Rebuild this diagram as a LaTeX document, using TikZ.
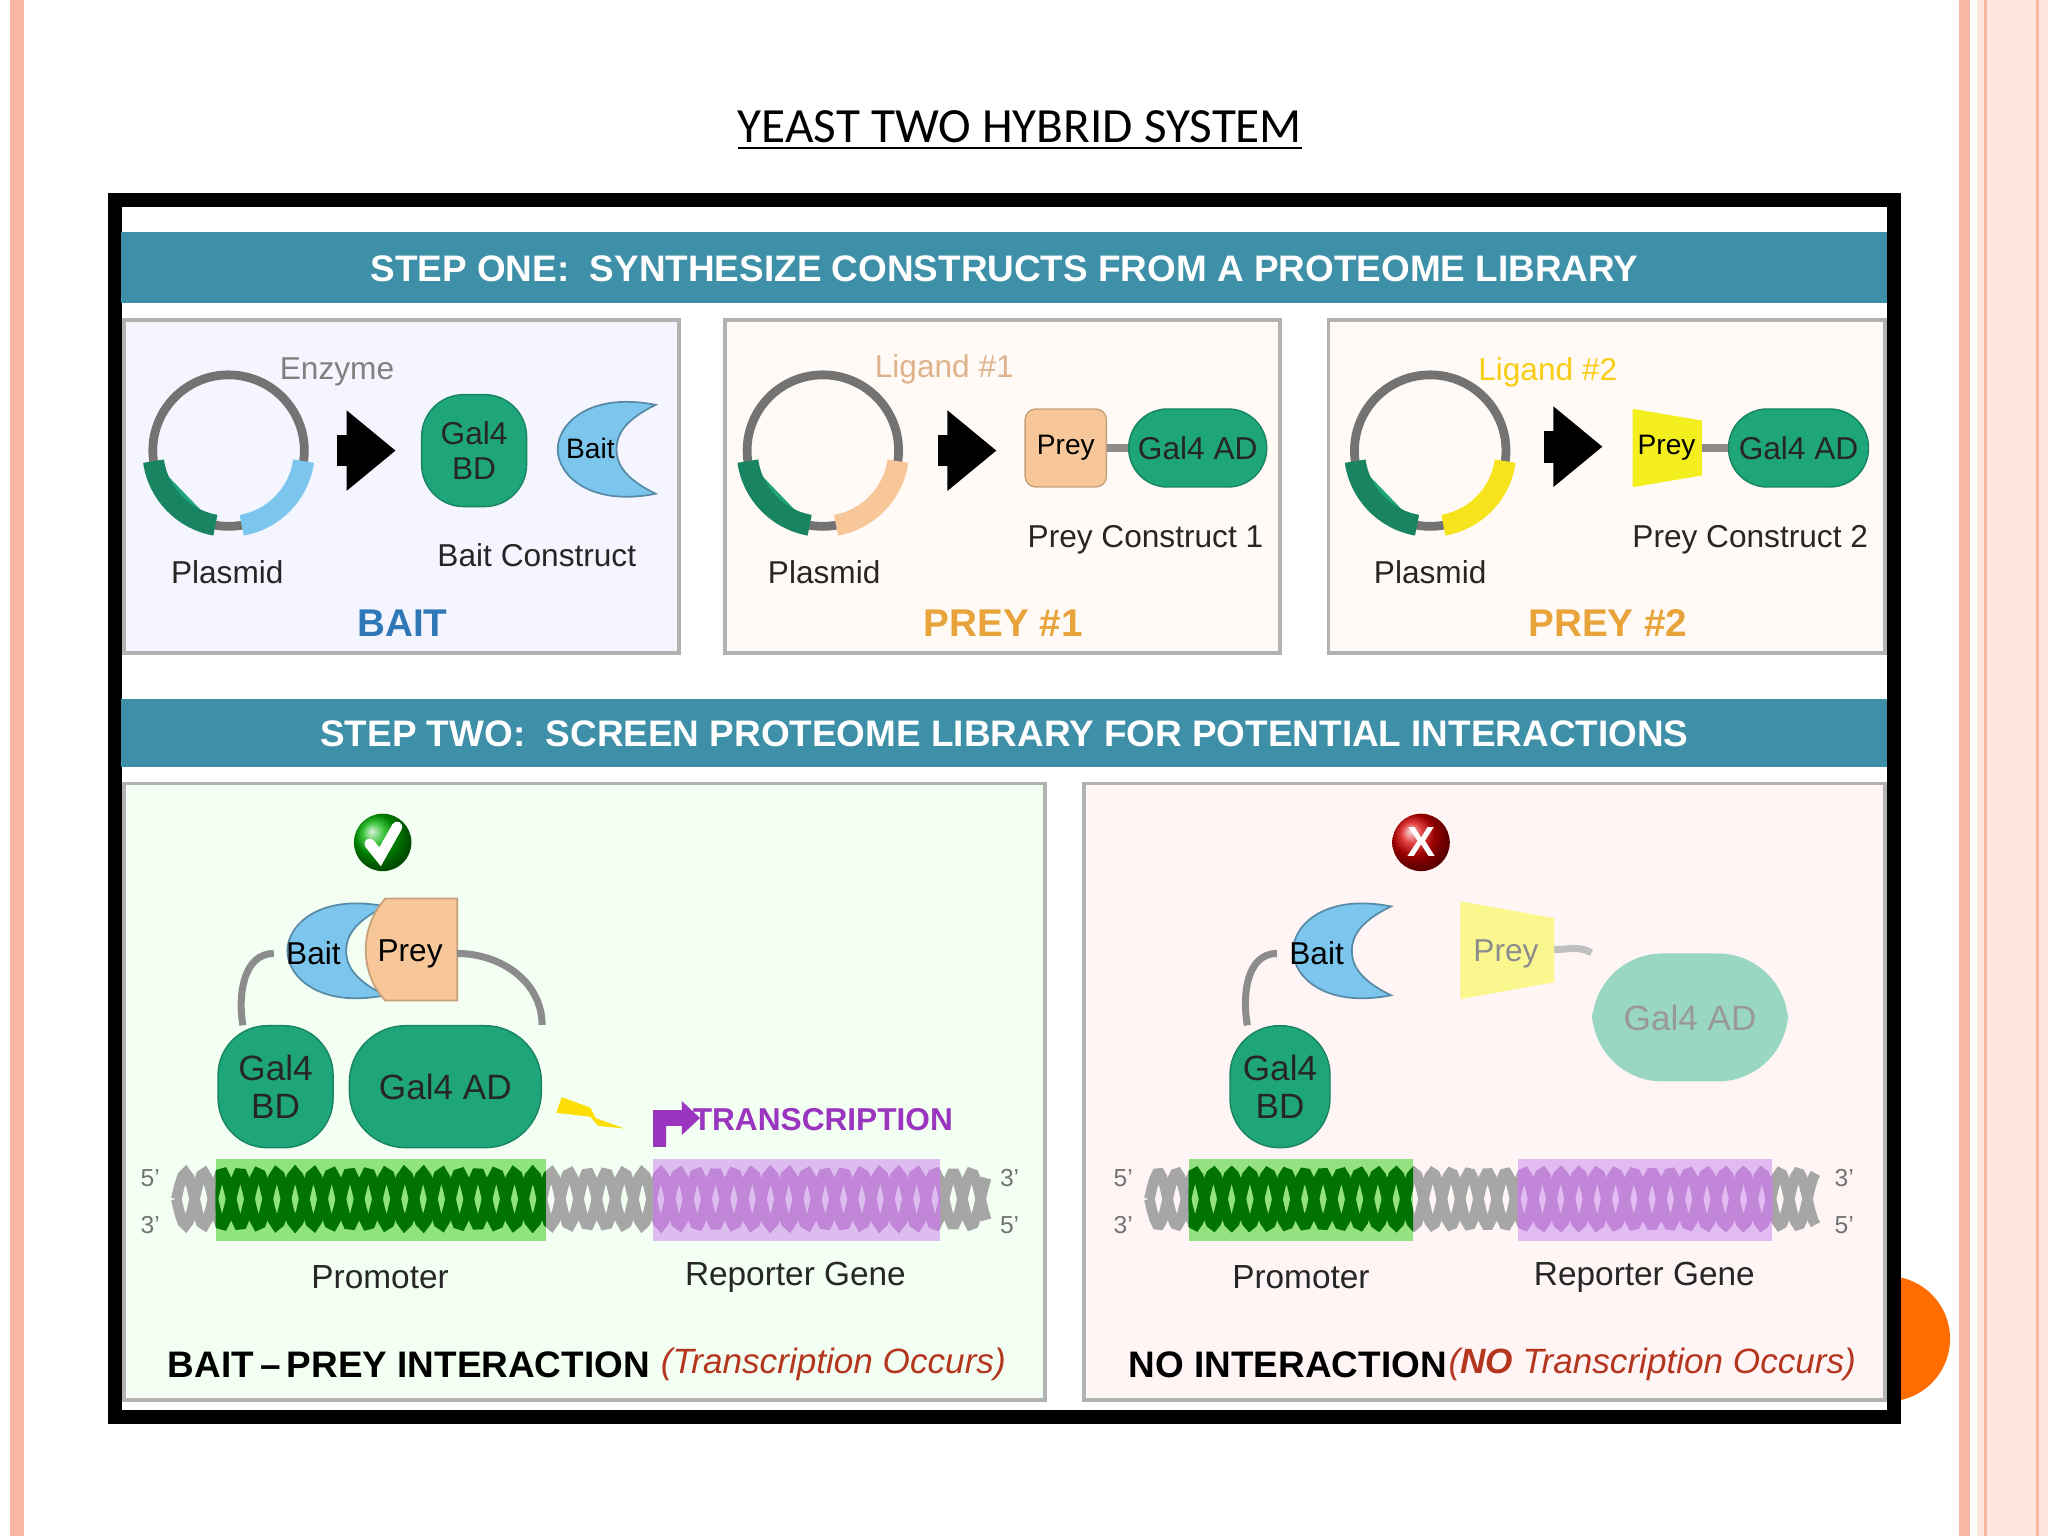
\documentclass[tikz,border=0pt]{standalone}
\usepackage{fontspec}
\setmainfont{Liberation Sans}
\newfontfamily\titlefont{Carlito}
\usetikzlibrary{positioning,arrows.meta}
\definecolor{teal}{HTML}{3E8FA8}
\definecolor{gal}{HTML}{1FA57A}
\definecolor{baitblue}{HTML}{7CC6EE}
\definecolor{peach}{HTML}{F7C79A}
\definecolor{preyyel}{HTML}{F5EE1E}
\definecolor{salmon}{HTML}{F7B7A0}
\definecolor{dnagreen}{HTML}{6FDB5A}
\definecolor{dnapurple}{HTML}{D7A8F0}
\definecolor{purp}{HTML}{9A35C0}
\definecolor{lblue}{HTML}{2F78B8}
\definecolor{orng}{HTML}{E8A33A}
\definecolor{redbrown}{HTML}{B5361F}
\begin{document}
\begin{tikzpicture}[x=0.01306cm,y=-0.01306cm,
    banner/.style={fill=teal,draw=none,text=white,font=\bfseries\fontsize{10.5}{12}\selectfont},
    panel/.style={draw=black!30,line width=1pt},
    gal/.style={fill=gal,draw=gal!80!black,rounded corners=12pt,text=black!85,font=\fontsize{9}{10}\selectfont,align=center,inner sep=0pt},
    lbl/.style={font=\fontsize{9}{10}\selectfont,text=black!85},
    big/.style={font=\fontsize{9.5}{11}\selectfont,text=black!85},
    fatarrow/.style={-{Triangle[length=14pt,width=22pt]},line width=9pt,black},
    link/.style={draw=black!45,line width=2pt},
    bait/.pic={\fill[baitblue,draw=baitblue!70!black,line width=0.5pt]
        (40,-34) .. controls (-10,-44) and (-35,-20) .. (-35,0)
        .. controls (-35,20) and (-10,44) .. (40,34)
        .. controls (15,22) and (10,10) .. (10,0)
        .. controls (10,-10) and (15,-22) .. (40,-34) -- cycle;},
    plasmid/.pic={\draw[black!55,line width=2.5pt] (0,0) circle (58);
        \draw[gal,line width=6pt] (172:58) arc (172:100:58);}
]
\useasboundingbox (0,0) rectangle (1568,1176);
\fill[white] (0,0) rectangle (1568,1176);
% slide border
\fill[salmon] (8,0) rectangle (18,1176);
\fill[salmon] (1500,0) rectangle (1508,1176);
\fill[salmon!35] (1514,0) rectangle (1568,1176);
\draw[salmon,line width=1pt] (1520,0) -- (1520,1176) (1560,0) -- (1560,1176);
\fill[orange!85!red] (1445,1025) circle (48);
% title
\node[font=\titlefont\fontsize{14}{16}\selectfont] (title) at (781,100) {\underline{YEAST TWO HYBRID SYSTEM}};
% frame
\fill[white] (88,153) rectangle (1450,1085);
\draw[line width=4pt] (88,153) rectangle (1450,1085);
% step one
\fill[teal] (93,178) rectangle (1445,232);
\node[banner] (s1) at (769,206) {STEP ONE:\ \ SYNTHESIZE CONSTRUCTS FROM A PROTEOME LIBRARY};
\filldraw[panel,fill=blue!4] (95,245) rectangle (520,500);
\filldraw[panel,fill=orange!4] (555,245) rectangle (980,500);
\filldraw[panel,fill=orange!4] (1017,245) rectangle (1443,500);
% bait panel
\pic at (175,345) {plasmid};
\draw[baitblue,line width=6pt] (175,345) ++(80:58) arc (80:8:58);
\node[lbl,text=black!50] (enz) at (258,285) {Enzyme};
\draw[fatarrow] (258,345) -- (303,345);
\node[gal,minimum width=1.05cm,text width=1cm,minimum height=1.12cm] (bd1) at (363,345) {Gal4\\BD};
\pic at (462,344) {bait};
\node[font=\fontsize{8}{9}\selectfont] (bt1) at (452,343) {Bait};
\node[lbl] (pl1) at (174,438) {Plasmid};
\node[lbl] (bc) at (411,425) {Bait Construct};
\node[font=\bfseries\fontsize{11}{12}\selectfont,text=lblue] (baitt) at (308,477) {BAIT};
% prey 1 panel
\pic at (630,345) {plasmid};
\draw[peach,line width=6pt] (630,345) ++(80:58) arc (80:8:58);
\node[lbl,text=peach!90!black] (lig1) at (723,283) {Ligand \#1};
\draw[fatarrow] (718,345) -- (763,345);
\node[fill=peach,draw=peach!80!black,rounded corners=3pt,minimum width=0.8cm,minimum height=0.78cm,align=center,font=\fontsize{8}{9}\selectfont] (py1) at (816,343) {Prey};
\node[gal,rounded corners=11pt,minimum width=1.38cm,minimum height=0.78cm] (ad1) at (917,343) {Gal4 AD};
\draw[link] (py1) -- (ad1);
\node[lbl] (pc1) at (877,413) {Prey Construct 1};
\node[lbl] (pl2) at (631,438) {Plasmid};
\node[font=\bfseries\fontsize{11}{12}\selectfont,text=orng] (p1t) at (768,477) {PREY \#1};
% prey 2 panel
\pic at (1095,345) {plasmid};
\draw[preyyel!90!orange,line width=6pt] (1095,345) ++(80:58) arc (80:8:58);
\node[lbl,text=preyyel!70!orange] (lig2) at (1185,285) {Ligand \#2};
\draw[fatarrow] (1182,342) -- (1227,342);
\fill[preyyel] (1250,313) -- (1303,322) -- (1303,364) -- (1250,373) -- cycle;
\node[font=\fontsize{8}{9}\selectfont] (py2) at (1276,343) {Prey};
\node[gal,rounded corners=11pt,minimum width=1.4cm,minimum height=0.78cm] (ad2) at (1377,343) {Gal4 AD};
\coordinate (py2e) at (1303,343);
\draw[link] (py2e) -- (ad2);
\node[lbl] (pc2) at (1340,413) {Prey Construct 2};
\node[lbl] (pl3) at (1095,438) {Plasmid};
\node[font=\bfseries\fontsize{11}{12}\selectfont,text=orng] (p2t) at (1231,477) {PREY \#2};
% step two
\fill[teal] (93,535) rectangle (1445,587);
\node[banner] (s2) at (769,562) {STEP TWO:\ \ SCREEN PROTEOME LIBRARY FOR POTENTIAL INTERACTIONS};
\filldraw[panel,fill=green!5] (95,600) rectangle (800,1072);
\filldraw[panel,fill=red!4] (830,600) rectangle (1443,1072);
% dna helices
\foreach \x/\len in {135/620, 880/510}{
  \begin{scope}[xshift=\x*0.01306cm]
    \draw[black!35,line width=3pt] plot[domain=0:\len,samples=260] (\x,{918+20*sin(\x*12.86)});
    \draw[black!35,line width=3pt] plot[domain=0:\len,samples=260] (\x,{918-20*sin(\x*12.86)});
  \end{scope}
}
\fill[dnagreen,opacity=0.75] (165,887) rectangle (418,950);
\fill[dnapurple,opacity=0.75] (500,887) rectangle (720,950);
\fill[dnagreen,opacity=0.75] (910,887) rectangle (1082,950);
\fill[dnapurple,opacity=0.75] (1162,887) rectangle (1357,950);
\begin{scope}
  \clip (165,887) rectangle (418,950) (910,887) rectangle (1082,950);
  \foreach \x/\len in {135/620, 880/510}{
  \begin{scope}[xshift=\x*0.01306cm]
    \draw[green!45!black,line width=3pt] plot[domain=0:\len,samples=260] (\x,{918+20*sin(\x*12.86)});
    \draw[green!45!black,line width=3pt] plot[domain=0:\len,samples=260] (\x,{918-20*sin(\x*12.86)});
  \end{scope}}
\end{scope}
\begin{scope}
  \clip (500,887) rectangle (720,950) (1162,887) rectangle (1357,950);
  \foreach \x/\len in {135/620, 880/510}{
  \begin{scope}[xshift=\x*0.01306cm]
    \draw[purp!60,line width=3pt] plot[domain=0:\len,samples=260] (\x,{918+20*sin(\x*12.86)});
    \draw[purp!60,line width=3pt] plot[domain=0:\len,samples=260] (\x,{918-20*sin(\x*12.86)});
  \end{scope}}
\end{scope}
\foreach \x/\a/\b in {115/5'/3', 773/3'/5', 860/5'/3', 1412/3'/5'}{
  \node[font=\fontsize{7}{8}\selectfont,text=black!55] at (\x,902) {\a};
  \node[font=\fontsize{7}{8}\selectfont,text=black!55] at (\x,938) {\b};
}
% left: interaction
\shade[ball color=green!70!black] (293,645) circle (22);
\draw[white,line width=3pt,line cap=round] (283,646) -- (291,656) -- (304,633);
\node[gal,minimum width=1.15cm,text width=1cm,minimum height=1.22cm,rounded corners=14pt,font=\fontsize{10}{11}\selectfont] (bdL) at (211,832) {Gal4\\BD};
\node[gal,minimum width=1.92cm,minimum height=1.22cm,rounded corners=16pt,font=\fontsize{10}{11}\selectfont] (adL) at (341,832) {Gal4 AD};
\pic at (255,728) {bait};
\fill[peach,draw=peach!80!black,line width=0.5pt] (295,688) -- (350,688) -- (350,766) -- (295,766)
   .. controls (275,745) and (275,710) .. (295,688) -- cycle;
\node[font=\fontsize{9}{10}\selectfont] (baitL) at (240,730) {Bait};
\node[font=\fontsize{9}{10}\selectfont] (preyL) at (314,730) {Prey};
\coordinate (bdLn) at (186,785);
\coordinate (preyLe) at (350,730);
\draw[link] (bdLn) to[out=100,in=180] (baitL.west);
\draw[link] (preyLe) to[out=0,in=90] (adL.north east);
\fill[yellow!80!orange] (430,840) -- (452,848) -- (456,856) -- (478,864) -- (458,862) -- (452,855) -- (426,852) -- cycle;
\fill[purp] (500,878) -- (500,850) -- (522,850) -- (522,843) -- (536,856) -- (522,869) -- (522,862) -- (510,862) -- (510,878) -- cycle;
\node[font=\bfseries\fontsize{9}{10}\selectfont,text=purp] (trans) at (630,857) {TRANSCRIPTION};
\node[big] (prL) at (291,978) {Promoter};
\node[big] (rgL) at (609,978) {Reporter Gene};
\node[font=\bfseries\fontsize{10.5}{12}\selectfont] (resL) at (313,1045) {BAIT\,--\,PREY INTERACTION};
\node[font=\itshape\fontsize{10}{12}\selectfont,text=redbrown] (occL) at (638,1045) {(Transcription Occurs)};
% right: no interaction
\shade[ball color=red!85!black] (1088,645) circle (22);
\node[text=white,font=\bfseries\fontsize{12}{12}\selectfont] (no) at (1088,645) {X};
\node[gal,text width=1cm,minimum height=1.22cm,rounded corners=14pt,font=\fontsize{10}{11}\selectfont] (bdR) at (980,832) {Gal4\\BD};
\pic at (1025,728) {bait};
\node[font=\fontsize{9}{10}\selectfont] (baitR) at (1008,730) {Bait};
\coordinate (bdRn) at (955,785);
\draw[link] (bdRn) to[out=100,in=180] (baitR.west);
\fill[preyyel!50] (1118,690) -- (1190,703) -- (1190,752) -- (1118,765) -- cycle;
\node[font=\fontsize{9}{10}\selectfont,text=black!45] (preyR) at (1153,730) {Prey};
\node[fill=gal!45,draw=none,rounded corners=20pt,minimum width=1.96cm,minimum height=1.28cm,font=\fontsize{10}{11}\selectfont,text=black!40] (adR) at (1294,779) {Gal4 AD};
\coordinate (preyRe) at (1190,727);
\draw[link,black!25] (preyRe) to[out=0,in=150] (adR.north west);
\node[big] (prR) at (996,978) {Promoter};
\node[big] (rgR) at (1259,978) {Reporter Gene};
\node[font=\bfseries\fontsize{10.5}{12}\selectfont] (resR) at (986,1045) {NO INTERACTION};
\node[font=\itshape\fontsize{10}{12}\selectfont,text=redbrown] (occR) at (1265,1045) {(\textbf{NO} Transcription Occurs)};
\end{tikzpicture}
\end{document}
